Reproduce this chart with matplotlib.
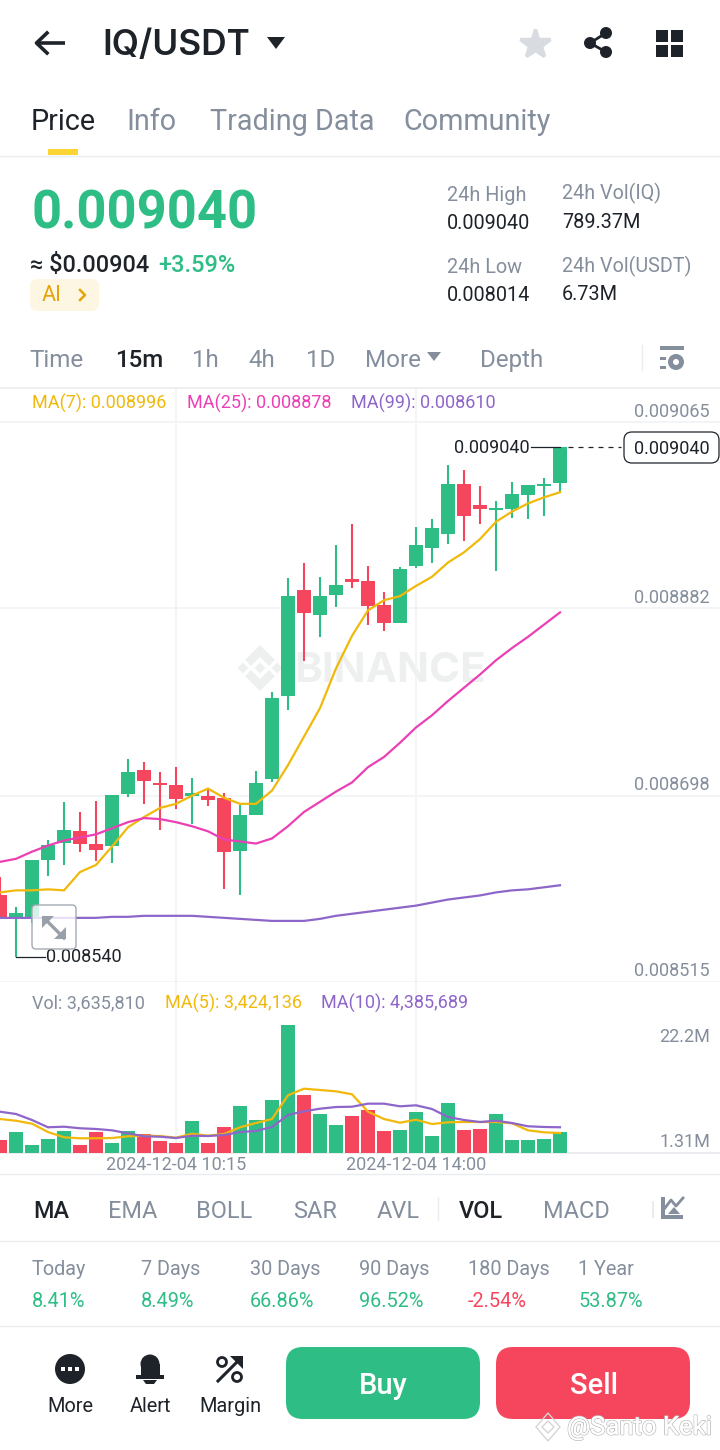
import numpy as np
import matplotlib
matplotlib.use("Agg")
import matplotlib.pyplot as plt
import matplotlib.patheffects as pe
from matplotlib.patches import Circle, FancyBboxPatch, Polygon, Rectangle
from matplotlib.transforms import ScaledTranslation

plt.rcParams['font.family'] = ['Roboto', 'DejaVu Sans']

# candles, in millionths of USDT
opens = [8600, 8579, 8578, 8635, 8652, 8663, 8651, 8649, 8700, 8723, 8710, 8708,
         8698, 8698, 8696, 8644, 8679, 8714, 8796, 8900, 8875, 8895, 8911, 8909,
         8885, 8868, 8924, 8941, 8955, 9004, 8983, 8979, 8980, 8993, 9002, 9005]
closes = [8579, 8583, 8635, 8650, 8664, 8651, 8645, 8699, 8721, 8712, 8708, 8695,
          8701, 8694, 8643, 8679, 8710, 8794, 8894, 8877, 8894, 8905, 8908, 8884,
          8868, 8921, 8944, 8961, 9004, 8973, 8980, 8981, 8994, 9003, 9004, 9040]
highs = [8618, 8589, 8635, 8654, 8692, 8682, 8693, 8699, 8734, 8731, 8721, 8726,
         8715, 8704, 8701, 8689, 8722, 8800, 8912, 8927, 8913, 8944, 8965, 8924,
         8898, 8923, 8962, 8970, 9023, 9018, 9002, 8987, 9006, 9003, 9010, 9040]
lows = [8579, 8540, 8573, 8619, 8630, 8643, 8634, 8632, 8697, 8690, 8664, 8685,
        8670, 8688, 8606, 8600, 8679, 8711, 8782, 8830, 8854, 8883, 8902, 8866,
        8860, 8868, 8922, 8927, 8945, 8948, 8965, 8919, 8971, 8970, 8973, 8996]

ma7 = [8603, 8605, 8605, 8606, 8605, 8623, 8630, 8648, 8667, 8677, 8686, 8690,
       8698, 8705, 8696, 8690, 8690, 8703, 8728, 8756, 8784, 8823, 8855, 8880,
       8890, 8894, 8904, 8913, 8927, 8937, 8950, 8967, 8977, 8985, 8991, 8996]
ma25 = [8633, 8636, 8643, 8649, 8654, 8657, 8660, 8666, 8672, 8676, 8675, 8672,
        8668, 8663, 8655, 8653, 8651, 8656, 8668, 8682, 8692, 8702, 8711, 8726,
        8736, 8750, 8765, 8777, 8791, 8804, 8817, 8831, 8843, 8854, 8866, 8878]
ma99 = [8578, 8578, 8578, 8578, 8578, 8578, 8578, 8579, 8579, 8580, 8580, 8580,
        8580, 8579, 8578, 8577, 8576, 8575, 8575, 8575, 8577, 8580, 8582, 8584,
        8586, 8588, 8590, 8593, 8596, 8598, 8600, 8603, 8605, 8606, 8608, 8610]

# volume, in millions
volume = [2.27, 3.64, 1.37, 2.34, 3.76, 1.37, 3.53, 1.76, 3.81, 3.24, 2.05, 1.76,
          5.41, 1.71, 4.49, 7.97, 5.68, 9.10, 21.9, 9.95, 6.61, 4.78, 6.37, 7.29,
          3.70, 3.87, 7.05, 2.90, 8.54, 3.98, 4.15, 6.71, 2.22, 2.17, 2.39, 3.64]
vol_ma5 = [5.80, 5.51, 5.00, 3.58, 2.68, 2.51, 2.51, 2.56, 2.85, 2.95, 2.90, 2.61,
           3.29, 2.95, 3.24, 4.39, 5.12, 5.80, 9.85, 10.98, 10.75, 10.53, 10.02, 7.05,
           5.80, 5.17, 5.68, 4.95, 5.24, 5.29, 5.29, 5.29, 5.07, 3.87, 3.53, 3.42]
vol_ma10 = [7.05, 6.66, 5.63, 4.39, 4.49, 4.22, 4.10, 3.87, 3.36, 2.85, 2.78, 2.56,
            2.95, 2.90, 3.07, 3.58, 3.76, 4.44, 6.49, 7.12, 7.56, 7.85, 7.90, 8.42,
            8.42, 7.97, 8.14, 7.51, 6.15, 5.63, 5.29, 5.51, 5.12, 4.56, 4.44, 4.39]

price_ticks = [9065, 8882, 8698, 8515]
price_tick_labels = ['0.009065', '0.008882', '0.008698', '0.008515']
date_ticks = [11, 26]
date_labels = ['2024-12-04 10:15', '2024-12-04 14:00']
vol_ticks = [22.2, 1.31]
vol_tick_labels = ['22.2M', '1.31M']

stat_names = ['Today', '7 Days', '30 Days', '90 Days', '180 Days', '1 Year']
stat_values = ['8.41%', '8.49%', '66.86%', '96.52%', '-2.54%', '53.87%']

GREEN = '#2EBD85'
RED = '#F6465D'
YELLOW = '#F0B90B'
PINK = '#EB40B5'
PURPLE = '#8E66C9'
DARK = '#1E2329'
GRAY = '#848E9C'
GRID = '#F2F3F5'
LINE = '#EAECEF'
MA_LW = 1.6

fig = plt.figure(figsize=(7.2, 14.5), dpi=100, facecolor='white')


def px_axes(zorder):
    a = fig.add_axes([0, 0, 1, 1], zorder=zorder)
    a.set_xlim(0, 720)
    a.set_ylim(1450, 0)
    a.axis('off')
    a.patch.set_alpha(0)
    return a


back = px_axes(0)
ui = px_axes(5)


def txt(x, y, s, size=14.3, color=GRAY, ha='left', weight='normal', on=None, **kw):
    # +1.5: centre of the glyphs sits a little above the va='center' point
    return (on or ui).text(x, y + 1.5, s, fontsize=size, color=color, ha=ha, va='center',
                           fontweight=weight, **kw)


# ---- price panel
ax = fig.add_axes([0, (1450 - 982) / 1450, 1, (982 - 388) / 1450], zorder=1)
ax.patch.set_alpha(0)
x = np.arange(len(opens))
o = np.array(opens) / 1e6
c = np.array(closes) / 1e6
h = np.array(highs) / 1e6
l = np.array(lows) / 1e6
colors = [GREEN if b >= a else RED for a, b in zip(o, c)]
ax.vlines(x, l, h, colors=colors, lw=1.5, zorder=3)
ax.bar(x, np.maximum(np.abs(c - o), 2e-6), bottom=np.minimum(o, c), width=0.875, color=colors, zorder=3)
ax.plot(x, np.array(ma7) / 1e6, color=YELLOW, lw=MA_LW, zorder=4)
ax.plot(x, np.array(ma25) / 1e6, color=PINK, lw=MA_LW, zorder=4)
ax.plot(x, np.array(ma99) / 1e6, color=PURPLE, lw=MA_LW, zorder=4)
ax.set_xlim(0, 45)
ax.set_ylim(0.008515, 0.0090984)
ax.set_xticks(date_ticks, ['', ''])
ax.set_yticks(np.array(price_ticks) / 1e6, price_tick_labels)
ax.yaxis.tick_right()
ax.tick_params(axis='both', length=0)
ax.tick_params(axis='y', pad=-7.2, labelsize=13, labelcolor=GRAY)
for lab in ax.get_yticklabels():
    lab.set_ha('right')
    lab.set_transform(lab.get_transform() + ScaledTranslation(0, 0.125, fig.dpi_scale_trans))
ax.grid(color=GRID, lw=1.3, zorder=0)
ax.set_axisbelow(True)
for s in ax.spines.values():
    s.set_visible(False)

# high / low / last markers
ax.plot([1, 2.8], [0.008540, 0.008540], color=DARK, lw=0.9, zorder=4)
ax.text(2.9, 0.0085395, '0.008540', fontsize=13, color=DARK, va='center', zorder=5)
ax.plot([33.2, 35], [0.009040, 0.009040], color=DARK, lw=0.9, zorder=4)
ax.text(33.13, 0.009039, '0.009040', fontsize=13, color=DARK, va='center', ha='right', zorder=5)
ax.plot([35.5, 38.8], [0.009040, 0.009040], color=DARK, lw=0.9, dashes=(4, 4), zorder=4)

# ---- volume panel
vax = fig.add_axes([0, (1450 - 1153) / 1450, 1, (1153 - 982) / 1450], zorder=1)
vax.patch.set_alpha(0)
vax.bar(x, volume, width=0.875, color=colors, zorder=3)
vax.plot(x, vol_ma5, color=YELLOW, lw=MA_LW, zorder=4)
vax.plot(x, vol_ma10, color=PURPLE, lw=MA_LW, zorder=4)
vax.set_xlim(0, 45)
vax.set_ylim(0, 29.19)
vax.set_xticks(date_ticks, date_labels)
vax.set_yticks(vol_ticks, vol_tick_labels)
vax.yaxis.tick_right()
vax.tick_params(axis='both', length=0)
vax.tick_params(axis='x', pad=2, labelsize=13, labelcolor=GRAY)
vax.tick_params(axis='y', pad=-7.2, labelsize=13, labelcolor=GRAY)
labs = vax.get_yticklabels()
labs[0].set_ha('right')
labs[1].set_ha('right')
labs[0].set_transform(labs[0].get_transform() + ScaledTranslation(0, -0.12, fig.dpi_scale_trans))
labs[1].set_transform(labs[1].get_transform() + ScaledTranslation(0, 0.05, fig.dpi_scale_trans))
vax.grid(axis='x', color=GRID, lw=1.3, zorder=0)
vax.set_axisbelow(True)
for s in vax.spines.values():
    s.set_visible(False)
vax.spines['bottom'].set_visible(True)
vax.spines['bottom'].set_color(LINE)
vax.spines['bottom'].set_linewidth(1.3)

# ---- watermark behind the chart
for cx, cy, r in [(260, 668, 5.5), (243, 668, 5.5), (277, 668, 5.5)]:
    back.add_patch(Polygon([(cx - r, cy), (cx, cy - r), (cx + r, cy), (cx, cy + r)], color='#EEF0F0', lw=0))
back.add_patch(Polygon([(245, 660), (260, 645), (275, 660), (269, 666), (260, 657), (251, 666)], color='#EEF0F0', lw=0))
back.add_patch(Polygon([(245, 676), (260, 691), (275, 676), (269, 670), (260, 679), (251, 670)], color='#EEF0F0', lw=0))
txt(294, 669, 'BINANCE', 30.3, '#EEF0F0', weight='bold', on=back, family=['Inter', 'DejaVu Sans'])

# ---- header
ui.plot([37, 65], [43, 43], color=DARK, lw=2.6, solid_capstyle='butt')
ui.plot([47, 36.5, 47], [33, 43, 53], color=DARK, lw=2.6)
txt(102, 44, 'IQ/USDT', 25.4, DARK, weight='semibold', family=['Inter', 'DejaVu Sans'])
ui.add_patch(Polygon([(267, 37), (285, 37), (276, 49)], color=DARK, lw=0))
ui.plot(535, 44, marker='*', ms=22, color='#D8DCE1', mew=2.5, mec='#D8DCE1', mfc='#D8DCE1')
for cx, cy in [(606, 33), (590, 43), (606, 52)]:
    ui.add_patch(Circle((cx, cy), 6, color=DARK, lw=0))
ui.plot([606, 590, 606], [33, 43, 52], color=DARK, lw=2)
for rx, ry in [(656, 30), (671, 30), (656, 45), (671, 45)]:
    ui.add_patch(Rectangle((rx, ry), 12, 12, color=DARK, lw=0))

for tx, s, col in [(31, 'Price', DARK), (126, 'Info', GRAY), (210, 'Trading Data', GRAY), (403, 'Community', GRAY)]:
    txt(tx, 120, s, 20.7, col)
ui.add_patch(Rectangle((48, 149), 30, 6, color='#FCD535', lw=0))
ui.plot([0, 720], [155.5, 155.5], color=LINE, lw=1)

# ---- price summary
txt(31, 212, '0.009040', 37.8, GREEN, weight='bold')
txt(30, 264, '≈ $0.00904', 16.8, DARK, weight='medium')
txt(158, 264, '+3.59%', 17, GREEN, weight='medium')
ui.add_patch(FancyBboxPatch((30, 279), 69, 32, boxstyle='round,pad=0,rounding_size=8', color='#FDF6E3', lw=0))
txt(42, 294, 'AI', 15.5, '#E5A50A')
ui.plot([80, 85, 80], [290, 295, 300], color='#E5A50A', lw=1.8)

txt(447, 194, '24h High')
txt(447, 222, '0.009040', color=DARK)
txt(447, 266, '24h Low')
txt(447, 294, '0.008014', color=DARK)
txt(562, 192, '24h Vol(IQ)', 14.2)
txt(562, 221, '789.37M', color=DARK)
txt(562, 265, '24h Vol(USDT)', 14.2)
txt(562, 293, '6.73M', color=DARK)

# ---- timeframe row
for tx, s, col, w in [(29.5, 'Time', GRAY, 'normal'), (115, '15m', DARK, 'medium'), (192, '1h', GRAY, 'normal'),
                      (248, '4h', GRAY, 'normal'), (306, '1D', GRAY, 'normal'), (365, 'More', GRAY, 'normal'),
                      (480, 'Depth', GRAY, 'normal')]:
    txt(tx, 358.5, s, 17.4, col, weight=w)
ui.add_patch(Polygon([(427, 352), (441, 352), (434, 361)], color=GRAY, lw=0))
ui.plot([642, 642], [345, 370], color=LINE, lw=1)
ui.add_patch(Rectangle((660, 346), 24, 4, color=GRAY, lw=0))
ui.add_patch(Rectangle((660, 357), 6, 3, color=GRAY, lw=0))
ui.add_patch(Rectangle((660, 366), 6, 3, color=GRAY, lw=0))
ui.add_patch(Circle((676, 362), 8, color=GRAY, lw=0))
ui.add_patch(Circle((676, 362), 3, color='white', lw=0))
ui.plot([0, 720], [388, 388], color=LINE, lw=1.2)

txt(32, 402, 'MA(7): 0.008996', 13, YELLOW)
txt(187, 402, 'MA(25): 0.008878', 13, PINK)
txt(351, 402, 'MA(99): 0.008610', 13, PURPLE)
txt(32, 1002, 'Vol: 3,635,810', 13, GRAY)
txt(165, 1002, 'MA(5): 3,424,136', 13, YELLOW)
txt(321, 1002, 'MA(10): 4,385,689', 13, PURPLE)

# last price box
ui.add_patch(FancyBboxPatch((624, 432), 95, 31, boxstyle='round,pad=0,rounding_size=8', fc='white', ec=DARK, lw=0.9))
txt(671.5, 447, '0.009040', 13, DARK, ha='center')

# expand button
ui.add_patch(FancyBboxPatch((32, 905), 44, 44, boxstyle='round,pad=0,rounding_size=4', fc='#FFFFFFCC', ec='#A4A9B3', lw=1))
ui.plot([44, 64], [918, 938], color='#9AA0AA', lw=2.4)
ui.add_patch(Polygon([(42, 916), (54, 916), (42, 928)], color='#9AA0AA', lw=0))
ui.add_patch(Polygon([(66, 939), (54, 939), (66, 927)], color='#9AA0AA', lw=0))

# ---- indicator row
ui.plot([0, 720], [1174, 1174], color=LINE, lw=1)
for tx, s, col, w, sz in [(33, 'MA', DARK, 'medium', 16.8), (108, 'EMA', GRAY, 'normal', 16.9), (196, 'BOLL', GRAY, 'normal', 16.9),
                          (293, 'SAR', GRAY, 'normal', 16.9), (377, 'AVL', GRAY, 'normal', 16.9), (459, 'VOL', DARK, 'medium', 16.9),
                          (543, 'MACD', GRAY, 'normal', 16.9)]:
    txt(tx, 1209.5, s, sz, col, weight=w)
# next tab fades out under the icon
txt(650, 1209.5, 'R', 16.9, '#E9EBEE', zorder=0.5)
ui.add_patch(Rectangle((654, 1195), 66, 30, color='white', lw=0))
ui.plot([438, 438], [1197, 1220], color=LINE, lw=1)
ui.add_patch(Polygon([(661, 1197), (665, 1197), (665, 1215), (683, 1215), (683, 1219), (661, 1219)], color=GRAY, lw=0))
ui.plot([665, 671, 676, 683], [1208, 1200, 1206, 1198], color=GRAY, lw=2)
ui.add_patch(Polygon([(668, 1214), (674, 1207), (680, 1214)], color=GRAY, lw=0))
ui.plot([0, 720], [1241, 1241], color=LINE, lw=1)

# ---- period stats
stat_x = [32, 141, 250, 359, 468, 578]
for sx, name, val in zip(stat_x, stat_names, stat_values):
    txt(sx, 1268, name)
    txt(sx, 1300, val, color=RED if val.startswith('-') else GREEN)
ui.plot([0, 720], [1326, 1326], color=LINE, lw=1)

# ---- bottom bar
ui.add_patch(Circle((70, 1369), 15, color=DARK, lw=0))
for dx in [63, 70, 77]:
    ui.add_patch(Rectangle((dx - 2, 1367), 4, 4, color='white', lw=0))
ui.add_patch(Circle((150, 1364), 9.5, color=DARK, lw=0))
ui.add_patch(Rectangle((140.5, 1364), 19, 12, color=DARK, lw=0))
ui.add_patch(Rectangle((136, 1375), 28, 4, color=DARK, lw=0))
ui.add_patch(Polygon([(143, 1380), (157, 1380), (154, 1384), (146, 1384)], color=DARK, lw=0))
ui.plot([218, 241], [1381, 1358], color=DARK, lw=2.2)
ui.add_patch(Polygon([(230, 1356), (243, 1356), (243, 1369)], color=DARK, lw=0))
ui.add_patch(Circle((222, 1362), 4.5, fc='white', ec=DARK, lw=2))
ui.add_patch(Circle((237, 1377), 4.5, fc='white', ec=DARK, lw=2))
txt(70.5, 1404.5, 'More', color=DARK, ha='center')
txt(150.5, 1404.5, 'Alert', color=DARK, ha='center')
txt(230.5, 1404.5, 'Margin', color=DARK, ha='center')

ui.add_patch(FancyBboxPatch((286, 1347), 194, 72, boxstyle='round,pad=0,rounding_size=17', color=GREEN, lw=0))
ui.add_patch(FancyBboxPatch((496, 1347), 194, 72, boxstyle='round,pad=0,rounding_size=17', color=RED, lw=0))
txt(383, 1385, 'Buy', 21, 'white', ha='center', weight='medium')
txt(594, 1385, 'Sell', 21, 'white', ha='center', weight='medium')

# ---- repost watermark
ui.add_patch(Polygon([(548, 1413), (560, 1427), (548, 1441), (536, 1427)], fc='none', ec='#D5D5D5', lw=1))
ui.add_patch(Polygon([(548, 1421), (554, 1427), (548, 1433), (542, 1427)], fc='none', ec='#D5D5D5', lw=1))
txt(567, 1426, '@Santo Keki', 18.5, 'white',
    path_effects=[pe.withStroke(linewidth=1.2, foreground='#BDBDBD'), pe.Normal()])

fig.savefig('out.png', dpi=100)
